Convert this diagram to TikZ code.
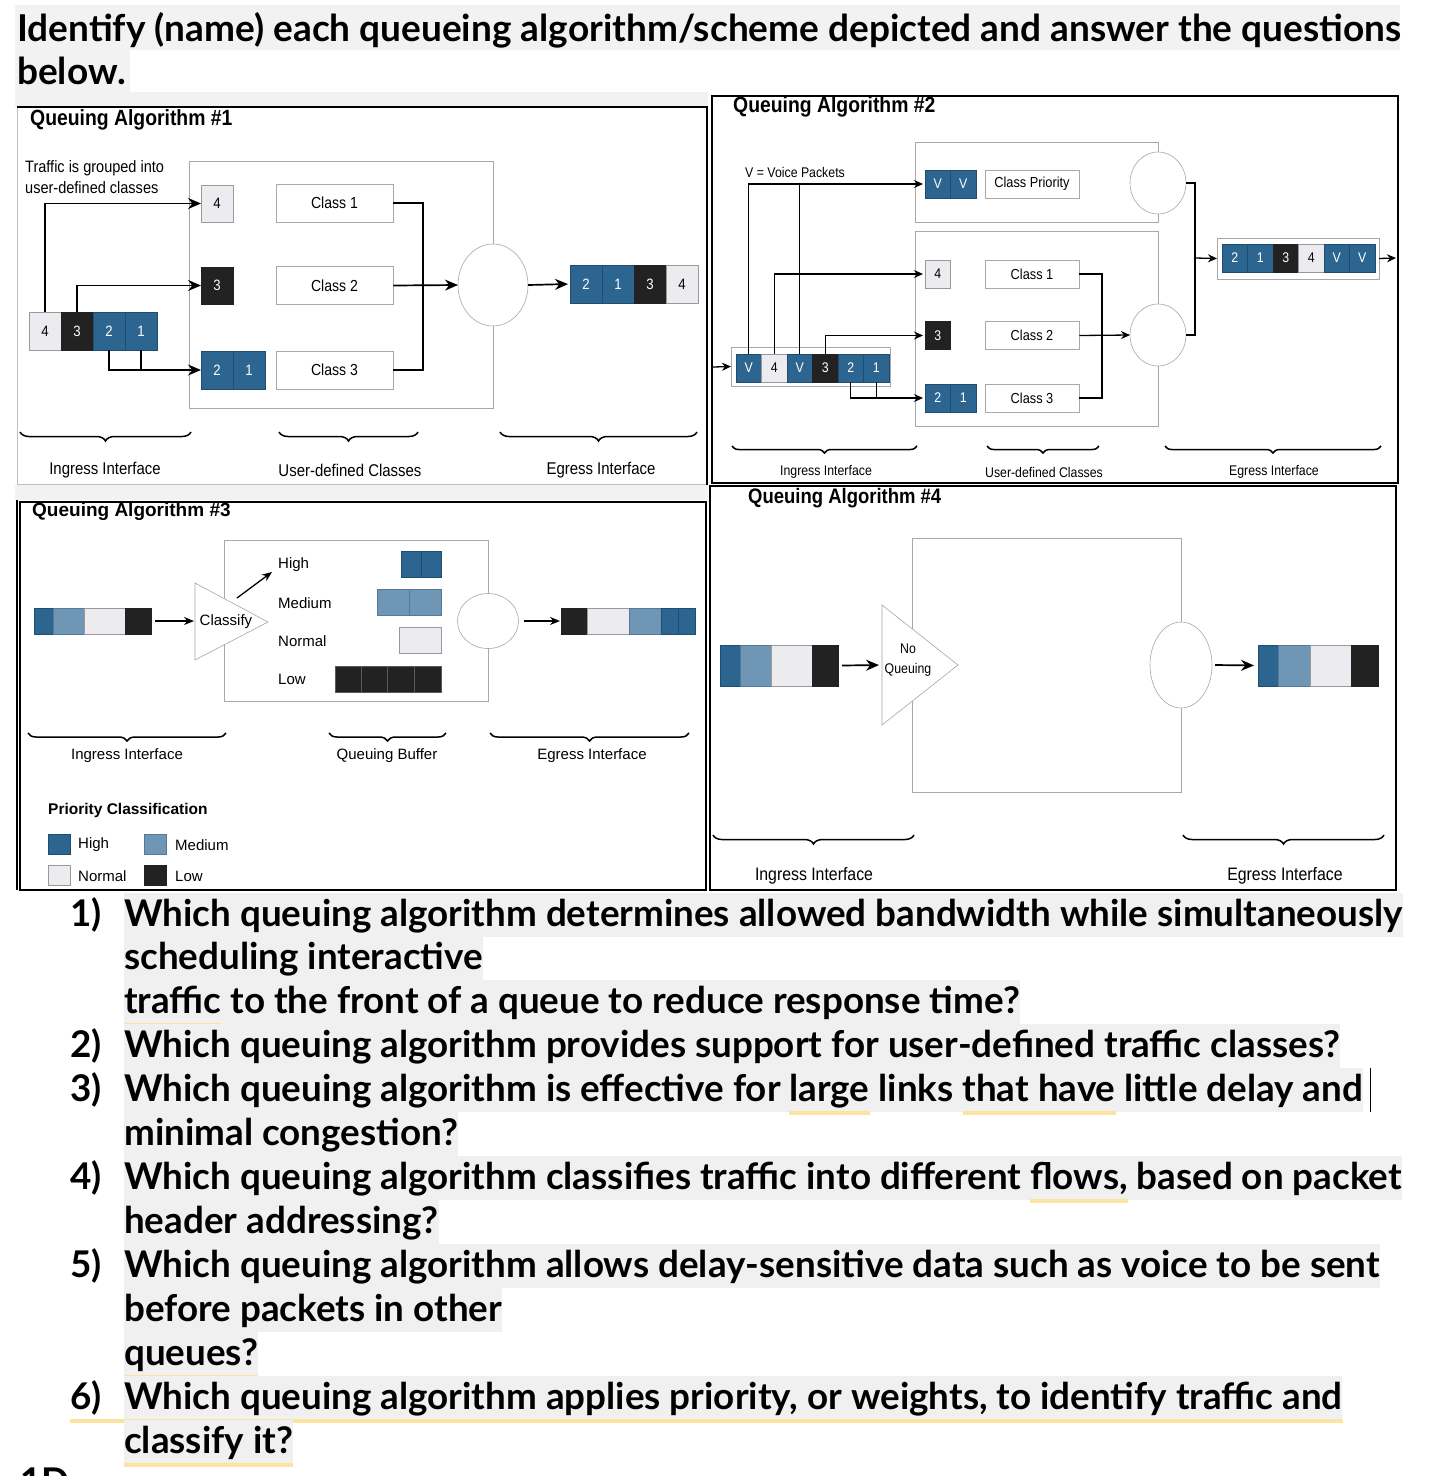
\documentclass[tikz,border=0pt]{standalone}
\usepackage{fontspec}
\setmainfont{Liberation Sans}
\newfontfamily\nar[FakeStretch=0.88]{Liberation Sans}
\newfontfamily\qf{Lato}
\usetikzlibrary{shapes.geometric,arrows.meta,decorations.pathreplacing,calc}
\definecolor{qblue}{HTML}{2C6690}
\definecolor{qblueD}{HTML}{1E4D6E}
\definecolor{qmed}{HTML}{7096B6}
\definecolor{qmedD}{HTML}{55799A}
\definecolor{qlight}{HTML}{EBEBF0}
\definecolor{qblk}{HTML}{222222}
\definecolor{gbord}{HTML}{A8A8A8}
\definecolor{hl}{HTML}{F0F0F0}
\definecolor{hdr}{HTML}{F2F2F2}
\definecolor{ylw}{HTML}{FBE4A0}
\newcommand\fs[1]{\fontsize{#1}{#1}\selectfont}
\newsavebox\yulbox
\newcommand\yul[1]{\sbox\yulbox{#1}\rlap{\color{ylw}\rule[-14pt]{\wd\yulbox}{4pt}}\usebox\yulbox}
\tikzset{
 pkt/.style={inner sep=0, outer sep=0, line width=0.6pt},
 sz/.style 2 args={minimum width=#1, minimum height=#2},
 hi/.style={pkt, fill=qblue, draw=qblueD, text=white},
 lt/.style={pkt, fill=qlight, draw=gray!80, text=black},
 bk/.style={pkt, fill=qblk, draw=qblk, text=white},
 bkd/.style={pkt, fill=qblk, draw=gray!70!black, text=white},
 md/.style={pkt, fill=qmed, draw=qmedD},
 p1/.style={sz={32}{38}, font=\nar\fs{15}},
 p2/.style={sz={25.5}{28}, font=\nar\fs{14}},
 cls/.style={draw=gbord, fill=white, line width=0.7pt, inner sep=0},
 grp/.style={draw=gbord, line width=0.7pt, inner sep=0, outer sep=0},
 ell/.style={ellipse, draw=gray!70, fill=white, line width=0.6pt, inner sep=0, outer sep=0},
 ln/.style={line width=1.7pt, black},
 arr/.style={ln, -{Stealth[length=13pt,width=11pt]}},
 lns/.style={line width=1.3pt, black},
 arrs/.style={lns, -{Stealth[length=9pt,width=8pt]}},
 brc/.style={decorate, decoration={brace, mirror, amplitude=#1}, line width=1.5pt},
 brc/.default=9pt,
 ql/.style={anchor=base west, inner xsep=0, inner ysep=0, text height=33, text depth=11, fill=hl, font=\qf\bfseries\fs{36.8}},
 qn/.style={anchor=base west, inner sep=0, font=\qf\bfseries\fs{36.8}},
}
\begin{document}
\begin{tikzpicture}[x=1pt,y=-1pt]
\clip (0,0) rectangle (1430,1476);
\fill[white] (0,0) rectangle (1430,1476);
% ---------------- header
\fill[hdr] (15,5) rectangle (1400,50);
\fill[hdr] (15,50) rectangle (130,92);
\fill[hdr] (15,92) rectangle (708,107);
\fill[hdr] (15,485) rectangle (708,500);
\node[anchor=base west, inner sep=0, font=\qf\bfseries\fs{37}] (h1) at (17,41) {Identify (name) each queueing algorithm/scheme depicted and answer the questions};
\node[anchor=base west, inner sep=0, font=\qf\bfseries\fs{37}] (h2) at (17,84) {below.};
% ---------------- panel frames
\draw[gray!50, line width=0.6pt] (17,107) -- (17,484) -- (707,484);
\draw[line width=1.4pt] (17,107) -- (708,107);
\draw[line width=1.4pt] (707,107) -- (707,485);
\draw[line width=2pt] (712,96) rectangle (1398,483);
\draw[line width=1.6pt] (20,502) rectangle (706,890);
\draw[line width=1.2pt] (17,500) -- (17,890);
\draw[line width=2pt] (710,486) rectangle (1396,890);
% ================= PANEL 1
\node[anchor=west, inner sep=0, font=\nar\bfseries\fs{22}] (t1) at (30,120) {Queuing Algorithm \#1};
\node[anchor=north west, align=left, inner sep=0, font=\nar\fontsize{16.5}{21}\selectfont] (tr1) at (25,160) {Traffic is grouped into\\user-defined classes};
\node[grp, sz={304}{247}] (g1) at (341,284.5) {};
\node[lt, p1, sz={32}{37}] (c4) at (217,203.5) {4};
\node[bk, p1, sz={32}{37}] (c3) at (217,285.5) {3};
\node[hi, p1] (c2) at (217,370) {2};
\node[hi, p1] (c1) at (249,370) {1};
\node[lt, p1] (i4) at (45,331) {4};
\node[bk, p1] (i3) at (77,331) {3};
\node[hi, p1] (i2) at (109,331) {2};
\node[hi, p1] (i1) at (141,331) {1};
\node[hi, p1] (e2) at (586,284) {2};
\node[hi, p1] (e1) at (618,284) {1};
\node[bk, p1] (e3) at (650,284) {3};
\node[lt, p1] (e4) at (682,284) {4};
\node[cls, sz={117}{38}, font=\nar\fs{16}] (cl1) at (334.5,203) {Class 1};
\node[cls, sz={117}{38}, font=\nar\fs{16}] (cl2) at (334.5,285.5) {Class 2};
\node[cls, sz={117}{38}, font=\nar\fs{16}] (cl3) at (334.5,370) {Class 3};
\node[ell, sz={70}{82}] (el1) at (493,285) {};
\draw[arr] (i4.north) |- (c4.west);
\draw[arr] (i3.north) |- (c3.west);
\draw[arr] (i2.south) |- (c2.west);
\draw[ln] (i1.south) -- (i1.south |- c2.west);
\coordinate (j1) at (423,370);
\draw[ln] (cl1.east) -| (j1) -- (cl3.east);
\draw[arr] (cl2.east) -- (el1.west);
\draw[arr, shorten >=2pt] (el1.east) -- (e2.west);
\draw[brc] (20,432) -- (191,432);
\draw[brc] (279,432) -- (418,432);
\draw[brc] (500,432) -- (697,432);
\begin{scope}[every node/.append style={font=\nar\fs{17}}]
\node (b1a) at (105,470) {Ingress Interface};
\node (b1b) at (350,470) {User-defined Classes};
\node (b1c) at (601,470) {Egress Interface};
\end{scope}
% ================= PANEL 2
\node[anchor=west, inner sep=0, font=\nar\bfseries\fs{22}] (t2) at (733,107) {Queuing Algorithm \#2};
\node[anchor=west, inner sep=0, font=\nar\fs{14}] (vv) at (745,172) {V = Voice Packets};
\node[grp, sz={243}{80}] (g2a) at (1036.5,182) {};
\node[grp, sz={243}{195}] (g2b) at (1036.5,328.5) {};
\node[grp, sz={162}{41}] (egb) at (1298,258.5) {};
\node[grp, sz={159}{39}] (igb) at (810.5,366.5) {};
\node[hi, p2] (pv1) at (937.75,184) {V};
\node[hi, p2] (pv2) at (963.25,184) {V};
\node[lt, p2] (d4) at (937.75,274) {4};
\node[bk, p2] (d3) at (937.75,335.5) {3};
\node[hi, p2] (d2) at (937.75,398) {2};
\node[hi, p2] (d1) at (963.25,398) {1};
\node[hi, p2] (q2v1) at (748.75,368) {V};
\node[lt, p2] (q2f) at (774.25,368) {4};
\node[hi, p2] (q2v2) at (799.75,368) {V};
\node[bk, p2] (q2t) at (825.25,368) {3};
\node[hi, p2] (q2b) at (850.75,368) {2};
\node[hi, p2] (q2a) at (876.25,368) {1};
\node[hi, p2] (o2b) at (1234.75,258) {2};
\node[hi, p2] (o2a) at (1260.25,258) {1};
\node[bk, p2] (o2t) at (1285.75,258) {3};
\node[lt, p2] (o2f) at (1311.25,258) {4};
\node[hi, p2] (o2v1) at (1336.75,258) {V};
\node[hi, p2] (o2v2) at (1362.25,258) {V};
\node[cls, sz={94}{28}, font=\nar\fs{14.5}] (cp) at (1032,184) {Class Priority};
\node[cls, sz={94}{28}, font=\nar\fs{14.5}] (k1) at (1032,274) {Class 1};
\node[cls, sz={94}{28}, font=\nar\fs{14.5}] (k2) at (1032,335.5) {Class 2};
\node[cls, sz={94}{28}, font=\nar\fs{14.5}] (k3) at (1032,398) {Class 3};
\node[ell, sz={56}{62}] (el2a) at (1158,183) {};
\node[ell, sz={56}{62}] (el2b) at (1158,335) {};
\coordinate (in2) at (713,367);
\coordinate (out2) at (1396,258);
\coordinate (j2) at (1102,398);
\coordinate (j3) at (1195,335);
\coordinate (j4) at (1195,258);
\draw[arrs] (in2) -- (igb.west);
\draw[arrs, shorten >=2pt] (q2v1.north) |- (pv1.west);
\draw[lns] (q2v2.north) -- (q2v2.north |- pv1.west);
\draw[arrs, shorten >=2pt] (q2f.north) |- (d4.west);
\draw[arrs, shorten >=2pt] (q2t.north) |- (d3.west);
\draw[arrs, shorten >=2pt] (q2b.south) |- (d2.west);
\draw[lns] (q2a.south) -- (q2a.south |- d2.west);
\draw[lns] (k1.east) -| (j2) -- (k3.east);
\draw[arrs] (k2.east) -- (el2b.west);
\draw[lns] (el2a.east) -| (j3) -- (el2b.east);
\draw[arrs] (j4) -- (egb.west);
\draw[arrs] (egb.east) -- (out2);
\draw[brc=7pt] (732,446) -- (917,446);
\draw[brc=7pt] (987,446) -- (1099,446);
\draw[brc=7pt] (1165,446) -- (1381,446);
\begin{scope}[every node/.append style={font=\nar\fs{14}}]
\node (b2a) at (826,472) {Ingress Interface};
\node (b2b) at (1044,472) {User-defined Classes};
\node (b2c) at (1274,472) {Egress Interface};
\end{scope}
% ================= PANEL 3
\node[anchor=west, inner sep=0, font=\bfseries\fs{19}] (t3) at (32,512) {Queuing Algorithm \#3};
\node[grp, sz={264}{161}] (g3) at (356,620.5) {};
\node[hi, sz={19}{26}] (r1) at (43.5,621) {};
\node[md, sz={31}{26}] (r2) at (68.5,621) {};
\node[lt, sz={41}{26}] (r3) at (104.5,621) {};
\node[bk, sz={26}{26}] (r4) at (138,621) {};
\node[hi, sz={20}{26}] (hq1) at (411,564) {};
\node[hi, sz={20}{26}] (hq2) at (431,564) {};
\node[md, sz={32}{26}] (mq1) at (393,602) {};
\node[md, sz={32}{26}] (mq2) at (425,602) {};
\node[lt, sz={42}{26}] (nq1) at (420,640) {};
\node[bkd, sz={26}{26}] (lq1) at (348,679) {};
\node[bkd, sz={26}{26}] (lq2) at (374,679) {};
\node[bkd, sz={27}{26}] (lq3) at (400.5,679) {};
\node[bkd, sz={27}{26}] (lq4) at (427.5,679) {};
\node[bk, sz={26}{26}] (s1) at (574,621) {};
\node[lt, sz={42}{26}] (s2) at (608,621) {};
\node[md, sz={32}{26}] (s3) at (645,621) {};
\node[hi, sz={17}{26}] (s4) at (669.5,621) {};
\node[hi, sz={17}{26}] (s5) at (686.5,621) {};
\coordinate (ta) at (195,583);
\coordinate (tb) at (195,660);
\coordinate (tc) at (268,622);
\coordinate (tw) at (195,621);
\draw[draw=gray!70, fill=white, line width=0.6pt] (ta) -- (tc) -- (tb) -- cycle;
\node[font=\fs{15}, inner sep=0] (cf) at (226,622) {Classify};
\node[ell, sz={61}{55}] (el3) at (488,621) {};
\coordinate (da) at (237,598);
\coordinate (db) at (272,572);
\draw[line width=1.3pt, -{Stealth[length=10pt,width=8pt]}, shorten >=1pt] (r4.east) ++(4,0) -- (tw);
\draw[line width=1.3pt, -{Stealth[length=10pt,width=8pt]}] (da) -- (db);
\draw[line width=1.3pt, -{Stealth[length=10pt,width=8pt]}, shorten >=1pt] (el3.east) ++(5,0) -- (s1.west);
\begin{scope}[every node/.append style={font=\fs{15}, anchor=west, inner sep=0}]
\node (lh) at (278,565) {High};
\node (lm) at (278,603) {Medium};
\node (lno) at (278,641) {Normal};
\node (ll) at (278,679) {Low};
\end{scope}
\draw[brc=8pt] (28,733) -- (226,733);
\draw[brc=8pt] (329,733) -- (446,733);
\draw[brc=8pt] (490,733) -- (689,733);
\begin{scope}[every node/.append style={font=\fs{15}}]
\node (b3a) at (127,756) {Ingress Interface};
\node (b3b) at (387,756) {Queuing Buffer};
\node (b3c) at (592,756) {Egress Interface};
\end{scope}
\node[anchor=west, inner sep=0, font=\bfseries\fs{15.5}] (pc) at (48,810) {Priority Classification};
\node[hi, sz={22}{20}] (sw1) at (59,844) {};
\node[md, sz={22}{20}] (sw2) at (155,844) {};
\node[lt, sz={22}{20}] (sw3) at (59,875) {};
\node[bk, sz={22}{20}] (sw4) at (155,875) {};
\begin{scope}[every node/.append style={font=\fs{15}, anchor=west, inner sep=0}]
\node (lg1) at (78,845) {High};
\node (lg2) at (175,845) {Medium};
\node (lg3) at (78,876) {Normal};
\node (lg4) at (175,876) {Low};
\end{scope}
% ================= PANEL 4
\node[anchor=west, inner sep=0, font=\nar\bfseries\fs{21}] (t4) at (748,498) {Queuing Algorithm \#4};
\node[grp, sz={269}{254}] (g4) at (1046.5,665) {};
\node[hi, sz={20}{41}] (u1) at (730,665.5) {};
\node[md, sz={31}{41}] (u2) at (755.5,665.5) {};
\node[lt, sz={41}{41}] (u3) at (791.5,665.5) {};
\node[bk, sz={26}{41}] (u4) at (825,665.5) {};
\node[hi, sz={20}{41}] (w1) at (1268,665.5) {};
\node[md, sz={32}{41}] (w2) at (1294,665.5) {};
\node[lt, sz={41}{41}] (w3) at (1330.5,665.5) {};
\node[bk, sz={27}{41}] (w4) at (1364.5,665.5) {};
\coordinate (xa) at (882,605);
\coordinate (xb) at (882,725);
\coordinate (xc) at (958,665);
\coordinate (xw) at (882,665);
\draw[draw=gray!70, fill=white, line width=0.6pt] (xa) -- (xc) -- (xb) -- cycle;
\node[font=\nar\fontsize{14}{20}\selectfont, align=center, inner sep=0] (nq) at (908,660) {No\\Queuing};
\node[ell, sz={62}{86}] (el4) at (1181,665) {};
\draw[arr, shorten >=3pt] (u4.east) ++(4,0) -- (xw);
\draw[arr, shorten >=4pt] (el4.east) ++(3,0) -- (w1.west);
\draw[brc] (713,835) -- (914,835);
\draw[brc] (1183,835) -- (1384,835);
\begin{scope}[every node/.append style={font=\nar\fs{18}}]
\node (b4a) at (814,876) {Ingress Interface};
\node (b4b) at (1285,876) {Egress Interface};
\end{scope}
% ================= QUESTIONS
\node[qn] (n1) at (70,926) {1)};
\node[ql] (q1a) at (124,926) {Which queuing algorithm determines allowed bandwidth while simultaneously};
\node[ql] (q1b) at (124,969) {scheduling interactive};
\node[ql] (q1c) at (124,1013) {\yul{traffic} to the front of a queue to reduce response time?};
\node[qn] (n2) at (70,1057) {2)};
\node[ql] (q2x) at (124,1057) {Which queuing algorithm provides support for user-defined traffic classes?};
\node[qn] (n3) at (70,1101) {3)};
\node[ql] (q3a) at (124,1101) {Which queuing algorithm is effective for \yul{large} links \yul{that have} little delay and};
\draw[line width=1.2pt] ([xshift=7pt]q3a.north east) -- ([xshift=7pt]q3a.south east);
\node[ql] (q3b) at (124,1145) {minimal congestion?};
\node[qn] (n4) at (70,1189) {4)};
\node[ql] (q4a) at (124,1189) {Which queuing algorithm classifies traffic into different \yul{flows,} based on packet};
\node[ql] (q4b) at (124,1233) {header addressing?};
\node[qn] (n5) at (70,1277) {5)};
\node[ql] (q5a) at (124,1277) {Which queuing algorithm allows delay-sensitive data such as voice to be sent};
\node[ql] (q5b) at (124,1321) {before packets in other};
\node[ql] (q5c) at (124,1365) {\yul{queues?}};
\node[qn] (n6) at (70,1409) {6)};
\node[ql] (q6a) at (124,1409) {Which queuing algorithm applies priority, or weights, to identify traffic and};
\fill[ylw] ($(n6.base west)+(0,10)$) rectangle ($(q6a.base east)+(0,14)$);
\node[ql] (q6b) at (124,1453) {\yul{classify it?}};
\node[qn] (n7) at (20,1494) {1D};
\end{tikzpicture}
\end{document}
